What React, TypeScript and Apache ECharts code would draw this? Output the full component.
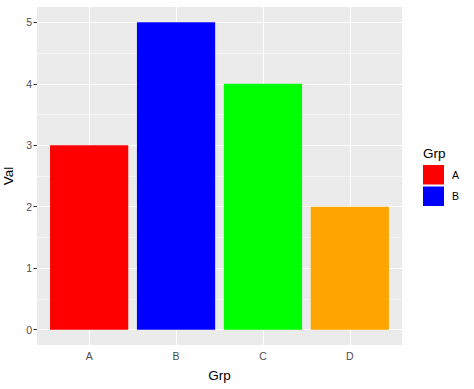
import React, { useEffect, useRef } from "react";
import * as echarts from "echarts";

const categories = ["A", "B", "C", "D"];
const values = [3, 5, 4, 2];
const barColors = ["#FF0000", "#0000FF", "#00FF00", "#FFA500"];
const legendNames = ["A", "B"];
const legendColors = ["#FF0000", "#0000FF"];
const yMajor = [0, 1, 2, 3, 4, 5];
const yMinor = [0.5, 1.5, 2.5, 3.5, 4.5];
const xPositions = [1, 2, 3, 4];

export default function App() {
  const ref = useRef<HTMLDivElement>(null);
  useEffect(() => {
    if (!ref.current) return;
    const chart = echarts.init(ref.current, null, { renderer: "svg" });
    const font = "Liberation Sans, Arial, sans-serif";
    const gridLines = [
      ...yMajor.map((v) => ({ yAxis: v, lineStyle: { color: "#FFFFFF", width: 1.1, type: "solid" } })),
      ...yMinor.map((v) => ({ yAxis: v, lineStyle: { color: "#FFFFFF", width: 0.5, type: "solid" } })),
      ...xPositions.map((v) => ({ xAxis: v, lineStyle: { color: "#FFFFFF", width: 1.1, type: "solid" } })),
    ];
    chart.setOption({
      animation: false,
      textStyle: { fontFamily: font },
      title: {
        text: "Grp",
        left: 423,
        top: 146,
        padding: 0,
        textStyle: { fontSize: 13.5, fontWeight: "normal", color: "#000000", fontFamily: font },
      },
      legend: {
        orient: "vertical",
        left: 423,
        top: 165,
        padding: 0,
        itemWidth: 21,
        itemHeight: 19.5,
        itemGap: 2,
        selectedMode: false,
        data: legendNames.map((n) => ({ name: n, icon: "rect" })),
        textStyle: { fontSize: 10.5, color: "#000000", fontFamily: font, padding: [0, 0, 0, 3] },
      },
      grid: {
        left: 37,
        right: 72,
        top: 7,
        bottom: 44,
        show: true,
        backgroundColor: "#EBEBEB",
        borderWidth: 0,
        containLabel: false,
        outerBoundsMode: "none",
      },
      xAxis: {
        type: "value",
        min: 0.4,
        max: 4.6,
        name: "Grp",
        nameLocation: "middle",
        nameGap: 23,
        nameMoveOverlap: false,
        nameTextStyle: { fontSize: 13.5, color: "#000000", fontFamily: font },
        axisLine: { show: false },
        splitLine: { show: false },
        axisTick: { show: true, customValues: xPositions, length: 3.6, lineStyle: { color: "#333333", width: 1 } },
        axisLabel: {
          customValues: xPositions,
          formatter: (v: number) => categories[Math.round(v) - 1] ?? "",
          fontSize: 10.5,
          color: "#4D4D4D",
          margin: 5,
          fontFamily: font,
        },
      },
      yAxis: {
        type: "value",
        min: -0.25,
        max: 5.25,
        name: "Val",
        nameLocation: "middle",
        nameGap: 22,
        nameMoveOverlap: false,
        nameTextStyle: { fontSize: 13.5, color: "#000000", fontFamily: font },
        axisLine: { show: false },
        splitLine: { show: false },
        axisTick: { show: true, customValues: yMajor, length: 3.6, lineStyle: { color: "#333333", width: 1 } },
        axisLabel: {
          customValues: yMajor,
          fontSize: 10.5,
          color: "#4D4D4D",
          margin: 5,
          fontFamily: font,
        },
      },
      series: [
        {
          type: "line",
          name: "__grid",
          data: [],
          z: 1,
          silent: true,
          markLine: {
            z: 1,
            silent: true,
            symbol: "none",
            label: { show: false },
            animation: false,
            data: gridLines,
          },
        },
        {
          type: "bar",
          name: "vals",
          z: 3,
          barWidth: "90%",
          data: categories.map((c, i) => ({
            value: [i + 1, values[i]],
            itemStyle: { color: barColors[i] },
          })),
        },
        ...legendNames.map((n, i) => ({
          type: "line",
          name: n,
          data: [],
          itemStyle: { color: legendColors[i] },
          lineStyle: { color: legendColors[i] },
        })),
      ],
    });
    return () => chart.dispose();
  }, []);
  return <div ref={ref} style={{ width: 474, height: 389, position: "absolute", left: 0, top: 0 }} />;
}
